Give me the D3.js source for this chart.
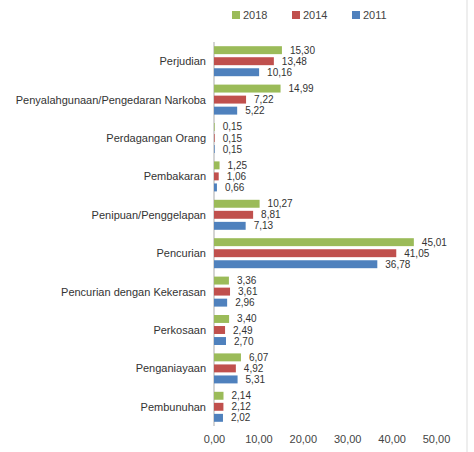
<!DOCTYPE html><html><head><meta charset="utf-8">
<script src="https://cdn.jsdelivr.net/npm/d3@7"></script>
<style>body{margin:0;background:#fff}</style></head><body><svg id="c" width="474" height="452"></svg>
<script>
const categories=["Perjudian","Penyalahgunaan/Pengedaran Narkoba","Perdagangan Orang","Pembakaran","Penipuan/Penggelapan","Pencurian","Pencurian dengan  Kekerasan","Perkosaan","Penganiayaan","Pembunuhan"];
const seriesNames=["2018","2014","2011"];
const v2018=[15.30,14.99,0.15,1.25,10.27,45.01,3.36,3.40,6.07,2.14];
const v2014=[13.48,7.22,0.15,1.06,8.81,41.05,3.61,2.49,4.92,2.12];
const v2011=[10.16,5.22,0.15,0.66,7.13,36.78,2.96,2.70,5.31,2.02];
const ticks=[0,10,20,30,40,50];
const colors=["#9BBB59","#C0504D","#4F81BD"];
const vals=[v2018,v2014,v2011];
const svg=d3.select("#c");
const fmt=d=>d.toFixed(2).replace(".",",");
const x=d3.scaleLinear().domain([0,50]).range([214,436]);
const y=d3.scaleBand().domain(categories).range([42,426]);
const bw=y.bandwidth();
const inner=d3.scaleBand().domain(seriesNames).range([bw/2-15,bw/2+15]).paddingInner(0.28);
svg.append("line").attr("x1",467).attr("x2",467).attr("y1",0).attr("y2",452).attr("stroke","#ddd");
const xa=svg.append("g").attr("transform","translate(0,426)").call(d3.axisBottom(x).tickValues(ticks).tickFormat(fmt).tickSize(0).tickPadding(9));
xa.select(".domain").remove();
xa.selectAll("text").attr("font-family","'Liberation Sans', sans-serif").attr("font-size",11).attr("fill","#444");
svg.append("line").attr("x1",x(0)).attr("x2",x(0)).attr("y1",42).attr("y2",426).attr("stroke","#aaa");
categories.forEach((c,i)=>{
  svg.append("text").attr("x",206).attr("y",y(c)+bw/2+4).attr("text-anchor","end")
    .attr("font-family","'Liberation Sans', sans-serif").attr("font-size",11).attr("fill","#333").text(c);
  seriesNames.forEach((s,j)=>{
    const v=vals[j][i], yy=y(c)+inner(s);
    svg.append("rect").attr("x",x(0)).attr("y",yy).attr("width",x(v)-x(0)).attr("height",inner.bandwidth()).attr("fill",colors[j]);
    svg.append("text").attr("x",x(v)+8).attr("y",yy+inner.bandwidth()/2+3.5).attr("font-family","'Liberation Sans', sans-serif").attr("font-size",10).attr("fill","#333").text(fmt(v));
  });
});
const lg=svg.append("g");
seriesNames.forEach((s,j)=>{
  const lx=232+j*60;
  lg.append("rect").attr("x",lx).attr("y",11).attr("width",8).attr("height",8).attr("fill",colors[j]);
  lg.append("text").attr("x",lx+11).attr("y",19).attr("font-family","'Liberation Sans', sans-serif").attr("font-size",11).attr("fill","#444").text(s);
});
</script></body></html>
